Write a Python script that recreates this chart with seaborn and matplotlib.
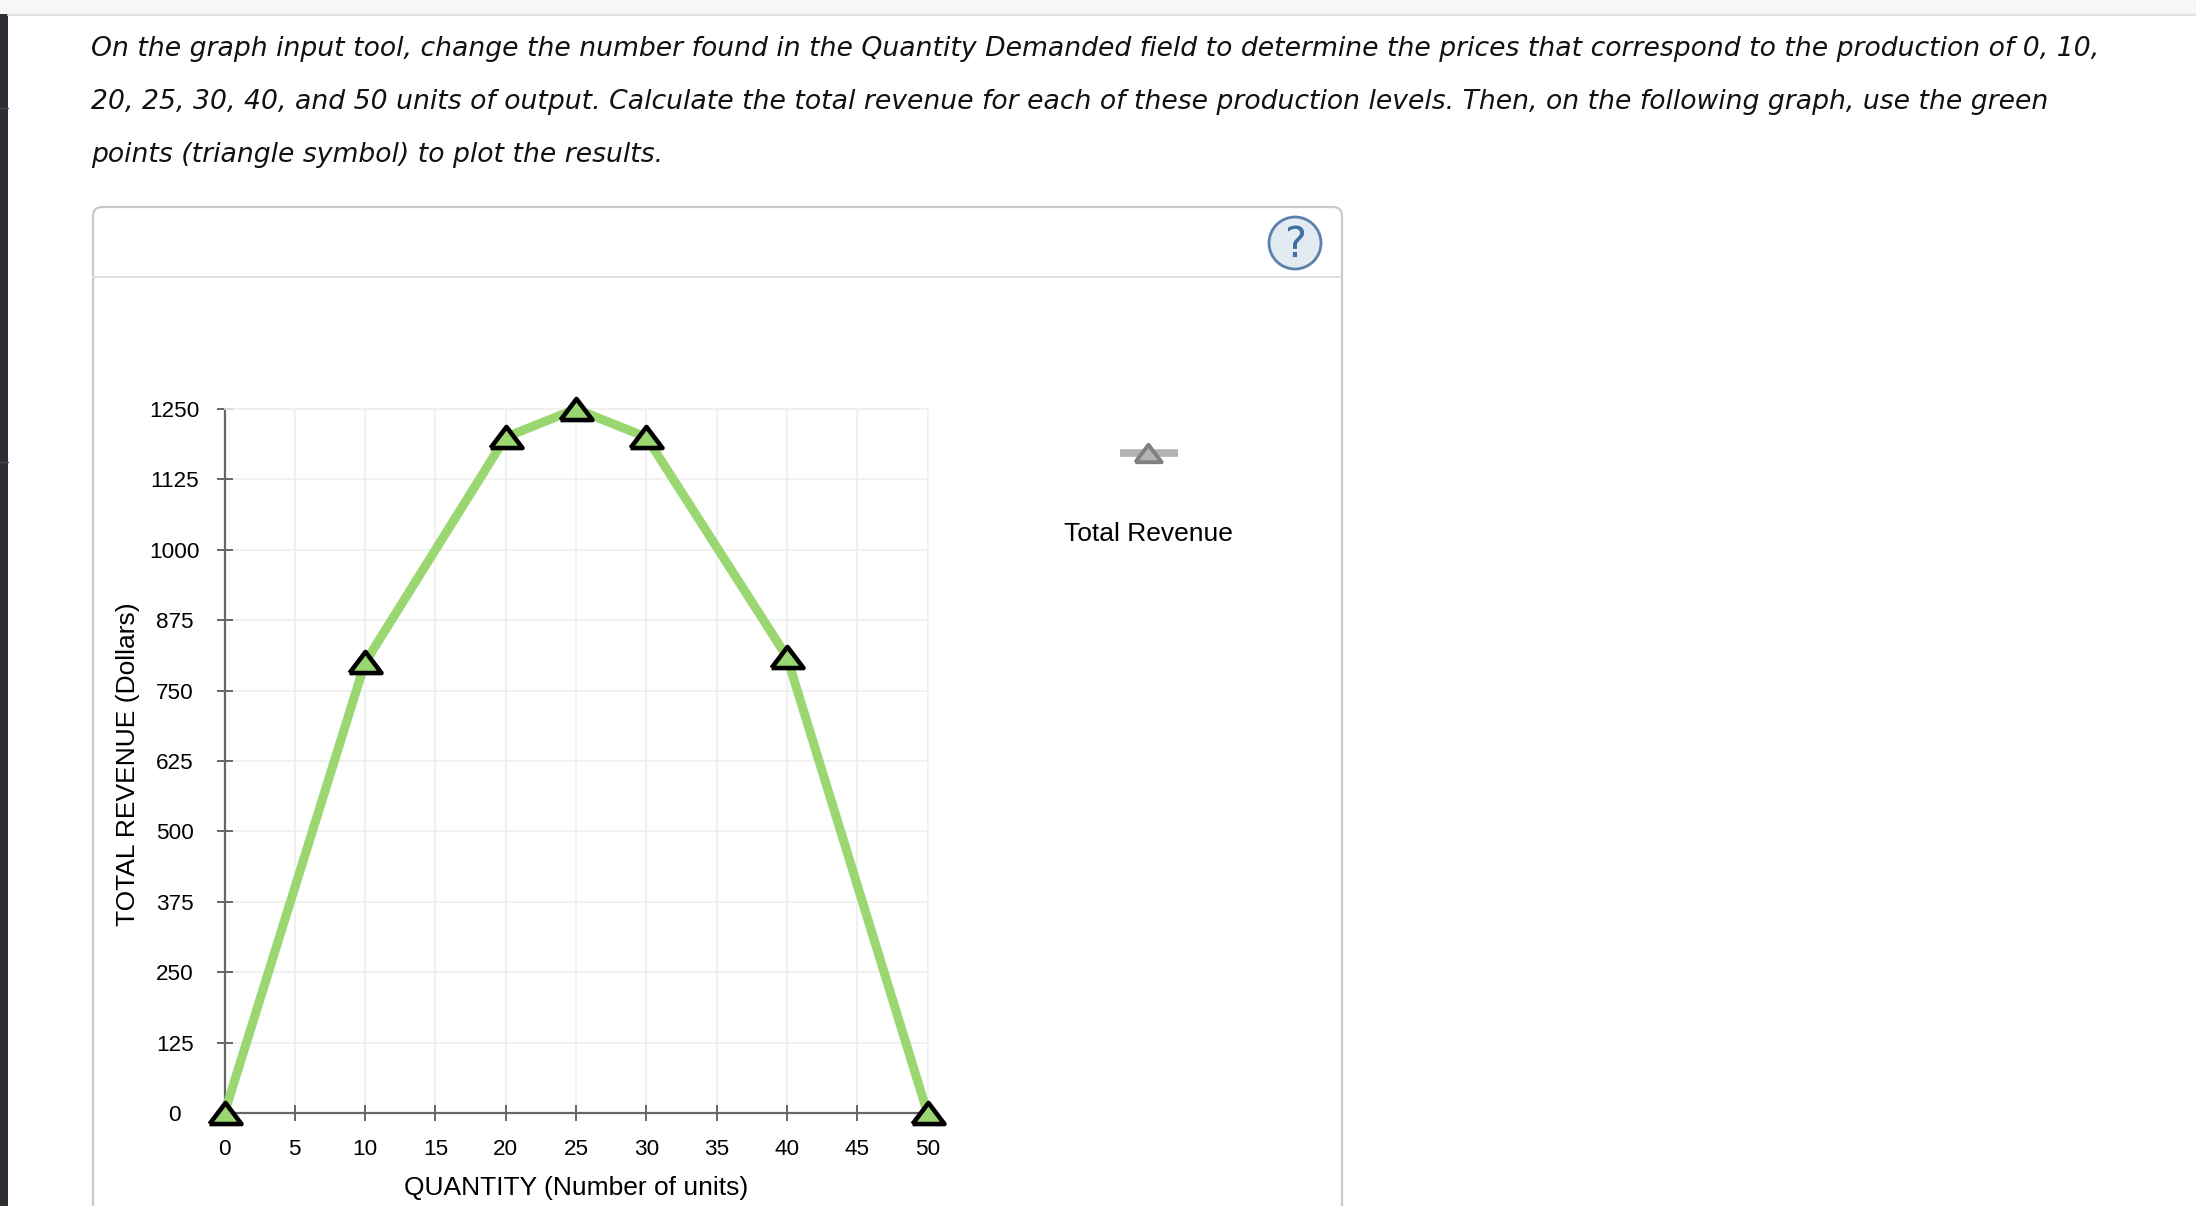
import matplotlib
matplotlib.use("Agg")
import matplotlib.pyplot as plt
import numpy as np
import pandas as pd
import seaborn as sns
from matplotlib.markers import MarkerStyle
from matplotlib.patches import Circle, FancyBboxPatch, Rectangle

# DATA
quantity = [0, 10, 20, 25, 30, 40, 50]
revenue = [0, 800, 1200, 1250, 1200, 810, 0]
x_ticks = [0, 5, 10, 15, 20, 25, 30, 35, 40, 45, 50]
y_ticks = [0, 125, 250, 375, 500, 625, 750, 875, 1000, 1125, 1250]
series_name = "Total Revenue"
prompt_lines = [
    "On the graph input tool, change the number found in the Quantity Demanded field to determine the prices that correspond to the production of 0, 10,",
    "20, 25, 30, 40, and 50 units of output. Calculate the total revenue for each of these production levels. Then, on the following graph, use the green",
    "points (triangle symbol) to plot the results.",
]

W, H = 2196, 1206
GREEN = "#9bd770"

sns.set_theme(style="white")
plt.rcParams["font.family"] = ["Liberation Sans", "DejaVu Sans"]

fig = plt.figure(figsize=(W / 100, H / 100), dpi=100, facecolor="white")

# page furniture, laid out in pixels
bg = fig.add_axes([0, 0, 1, 1])
bg.set_xlim(0, W)
bg.set_ylim(H, 0)
bg.axis("off")

bg.add_patch(Rectangle((0, 0), 8, H, color="#2b2e33", lw=0))
bg.add_patch(Rectangle((0, 0), W, 14, color="#f7f7f7", lw=0))
bg.plot([8, W], [15, 15], color="#e2e2e2", lw=1.5)
bg.plot([0, 8], [108, 108], color="#44484d", lw=1)
bg.plot([0, 8], [462, 462], color="#44484d", lw=1)

for line, y in zip(prompt_lines, [49, 102, 155]):
    bg.text(91, y, line, family="DejaVu Sans", style="italic", fontsize=19.2,
            color="#111111", va="center", ha="left")

bg.add_patch(FancyBboxPatch((93, 207), 1249, 1100, boxstyle="round,pad=0,rounding_size=9",
                            fc="white", ec="#c9c9c9", lw=1.6))
bg.plot([93, 1342], [277, 277], color="#dedede", lw=1.4)

bg.add_patch(Circle((1295, 243), 26, fc="#e2eaf2", ec="#5a80ab", lw=2))
bg.text(1295, 245, "?", family="DejaVu Sans", fontsize=30, color="#3f6ea5", ha="center", va="center")

# legend key and label
tri = np.array([[-1.0, -0.66], [1.0, -0.66], [0.0, 0.66], [-1.0, -0.66]])
tri_marker = MarkerStyle(tri, joinstyle="miter")
bg.plot([1120, 1178], [453, 453], color="#b3b3b3", lw=5.5, solid_capstyle="butt")
bg.plot([1148], [453], marker=tri_marker, ms=19, mfc="#b3b3b3",
        mec="#808080", mew=2.8, ls="none")
bg.text(1148, 534, series_name, fontsize=19, color="black", ha="center", va="center")

# chart
df = pd.DataFrame({"quantity": quantity, "revenue": revenue})
ax = fig.add_axes([224.5 / W, 1 - 1113 / H, 703 / W, 704 / H], facecolor="none")

sns.lineplot(data=df, x="quantity", y="revenue", ax=ax, color=GREEN, linewidth=6.5,
             errorbar=None, marker=tri_marker, markersize=23,
             markerfacecolor=GREEN, markeredgecolor="black", markeredgewidth=3.3,
             clip_on=False, zorder=5)

ax.set_xlim(0, 50)
ax.set_ylim(0, 1250)
ax.set_xticks(x_ticks)
ax.set_yticks(y_ticks)
ax.grid(True, color="#efefef", linewidth=1.2)
ax.set_axisbelow(True)

for side in ["top", "right"]:
    ax.spines[side].set_color("#efefef")
    ax.spines[side].set_linewidth(1.2)
for side in ["left", "bottom"]:
    ax.spines[side].set_color("#666666")
    ax.spines[side].set_linewidth(1.6)

ax.tick_params(axis="both", direction="inout", length=11.5, width=1.4, color="#666666",
               labelsize=16.2, labelcolor="black", left=True, bottom=True)
ax.tick_params(axis="y", pad=30)
ax.tick_params(axis="x", pad=13)
for lab in ax.get_yticklabels():
    lab.set_ha("center")

ax.set_xlabel("QUANTITY (Number of units)", fontsize=19, color="black")
ax.set_ylabel("TOTAL REVENUE (Dollars)", fontsize=19, color="black")
ax.xaxis.set_label_coords(0.5, -0.09)
ax.yaxis.set_label_coords(-0.12, 0.496)

fig.savefig("out.png", dpi=100)
